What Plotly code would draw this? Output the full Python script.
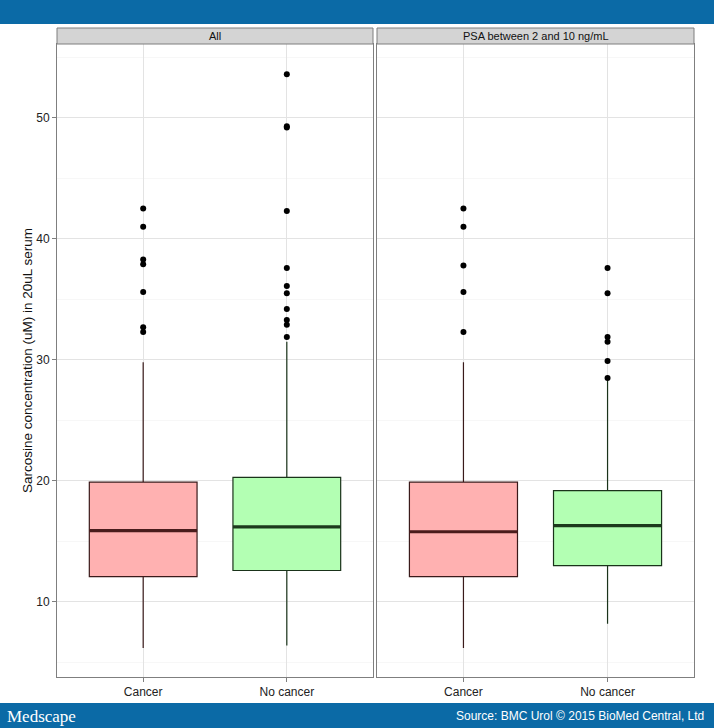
import plotly.graph_objects as go

categories = ["Cancer", "No cancer"]
panels = ["All", "PSA between 2 and 10 ng/mL"]

# box statistics per panel: [Cancer, No cancer]
q1 = {"All": [12.1, 12.6], "PSA between 2 and 10 ng/mL": [12.1, 13.0]}
median = {"All": [15.9, 16.2], "PSA between 2 and 10 ng/mL": [15.8, 16.3]}
q3 = {"All": [19.9, 20.3], "PSA between 2 and 10 ng/mL": [19.9, 19.2]}
lower = {"All": [6.2, 6.4], "PSA between 2 and 10 ng/mL": [6.2, 8.2]}
upper = {"All": [29.8, 31.5], "PSA between 2 and 10 ng/mL": [29.8, 28.3]}

outliers_all_cancer = [42.5, 41.0, 38.3, 37.9, 35.6, 32.7, 32.3]
outliers_all_nocancer = [53.6, 49.2, 49.3, 42.3, 37.6, 36.1, 35.5, 34.2, 33.3, 32.9, 31.9]
outliers_psa_cancer = [42.5, 41.0, 37.8, 35.6, 32.3]
outliers_psa_nocancer = [37.6, 35.5, 31.9, 31.5, 29.9, 28.5]
outliers = {"All": [outliers_all_cancer, outliers_all_nocancer],
            "PSA between 2 and 10 ng/mL": [outliers_psa_cancer, outliers_psa_nocancer]}

fills = ["#ffb1b1", "#b3ffb3"]
edges = ["#3a1a1a", "#1a331a"]
medcols = ["#4a1c1c", "#1c3a1c"]

W, H = 714, 728
ml, mr, mt, mb = 57, 20, 44, 51
pw, ph = W - ml - mr, H - mt - mb

fig = go.Figure()
box_w = 0.75
for pi, panel in enumerate(panels):
    xa = "x" if pi == 0 else "x2"
    ya = "y" if pi == 0 else "y2"
    for ci, cat in enumerate(categories):
        fig.add_trace(go.Box(
            x=[ci], q1=[q1[panel][ci]], median=[median[panel][ci]], q3=[q3[panel][ci]],
            lowerfence=[lower[panel][ci]], upperfence=[upper[panel][ci]],
            width=box_w, whiskerwidth=0, fillcolor=fills[ci],
            line=dict(color=edges[ci], width=1.2), boxpoints=False,
            xaxis=xa, yaxis=ya, showlegend=False, hoverinfo="skip"))
        fig.add_trace(go.Scatter(
            x=[ci - box_w / 2, ci + box_w / 2], y=[median[panel][ci]] * 2,
            mode="lines", line=dict(color=medcols[ci], width=3.2),
            xaxis=xa, yaxis=ya, showlegend=False, hoverinfo="skip"))
        ol = outliers[panel][ci]
        fig.add_trace(go.Scatter(
            x=[ci] * len(ol), y=ol, mode="markers",
            marker=dict(color="black", size=6),
            xaxis=xa, yaxis=ya, showlegend=False, hoverinfo="skip"))

d1 = [0, 316 / pw]
d2 = [(377 - ml) / pw, 1]
axcommon = dict(range=[-0.6, 1.6], tickvals=[0, 1], ticktext=categories,
                showgrid=True, gridcolor="#e3e3e3", gridwidth=1,
                showline=True, linecolor="#7f7f7f", linewidth=1, mirror=True,
                ticks="outside", ticklen=4, tickcolor="#7f7f7f",
                tickfont=dict(family="Liberation Sans, Arial", size=12, color="#222"),
                zeroline=False)
ycommon = dict(range=[3.8, 56.1], tickvals=[10, 20, 30, 40, 50],
               showgrid=True, gridcolor="#e3e3e3", gridwidth=1,
               minor=dict(tickvals=[5, 15, 25, 35, 45, 55], showgrid=True, gridcolor="#f7f7f7"),
               showline=True, linecolor="#7f7f7f", linewidth=1, mirror=True,
               tickcolor="#7f7f7f",
               tickfont=dict(family="Liberation Sans, Arial", size=12, color="#222"),
               zeroline=False)

fig.update_layout(
    width=W, height=H, margin=dict(l=ml, r=mr, t=mt, b=mb),
    paper_bgcolor="white", plot_bgcolor="white",
    xaxis=dict(domain=d1, anchor="y", **axcommon),
    xaxis2=dict(domain=d2, anchor="y2", **axcommon),
    yaxis=dict(domain=[0, 1], anchor="x", ticks="outside", ticklen=4,
               title=dict(text="Sarcosine concentration (uM) in 20uL serum",
                          font=dict(family="Liberation Sans, Arial", size=13.5, color="#111"),
                          standoff=0),
               **ycommon),
    yaxis2=dict(domain=[0, 1], anchor="x2", showticklabels=False, ticks="", **ycommon),
)

shapes = []
annos = []
strip_top = 1 + 16 / ph
for pi, (d, panel) in enumerate(zip([d1, d2], panels)):
    shapes.append(dict(type="rect", xref="paper", yref="paper", x0=d[0], x1=d[1],
                       y0=1, y1=strip_top, fillcolor="#d4d4d4",
                       line=dict(color="#7f7f7f", width=1), layer="above"))
    annos.append(dict(xref="paper", yref="paper", x=(d[0] + d[1]) / 2, y=(1 + strip_top) / 2,
                      text=panel, showarrow=False, xanchor="center", yanchor="middle",
                      font=dict(family="Liberation Sans, Arial", size=11, color="#111")))

# header and footer bars
x_left = -ml / pw
x_right = 1 + mr / pw
shapes.append(dict(type="rect", xref="paper", yref="paper", x0=x_left, x1=x_right,
                   y0=1 + (mt - 24) / ph, y1=1 + mt / ph, fillcolor="#0b6aa6",
                   line=dict(width=0), layer="above"))
shapes.append(dict(type="rect", xref="paper", yref="paper", x0=x_left, x1=x_right,
                   y0=-(703 - (H - mb)) / ph, y1=-mb / ph, fillcolor="#0b6aa6",
                   line=dict(width=0), layer="above"))
annos.append(dict(xref="paper", yref="paper", x=x_left + 5 / pw, y=-(716 - (H - mb)) / ph,
                  text="Medscape", showarrow=False, xanchor="left", yanchor="middle",
                  font=dict(family="Liberation Serif, Times New Roman", size=17, color="white")))
annos.append(dict(xref="paper", yref="paper", x=x_right - 8 / pw, y=-(716 - (H - mb)) / ph,
                  text="Source: BMC Urol © 2015 BioMed Central, Ltd", showarrow=False,
                  xanchor="right", yanchor="middle",
                  font=dict(family="Liberation Sans, Arial", size=12, color="white")))

fig.update_layout(shapes=shapes, annotations=annos)
fig.write_html("out.html")
